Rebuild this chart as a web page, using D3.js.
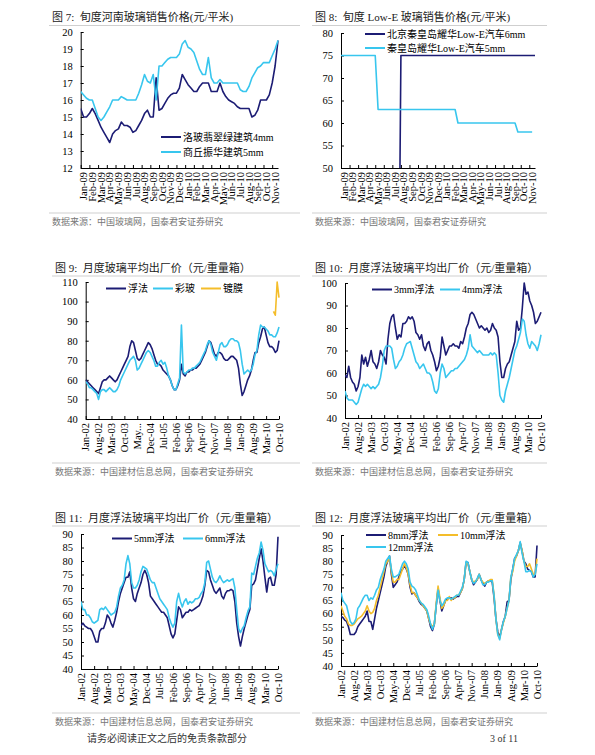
<!DOCTYPE html>
<html>
<head>
<meta charset="utf-8">
<script src="https://cdn.jsdelivr.net/npm/d3@7"></script>
<style>
body { margin: 0; background: #fff; }
svg text { font-family: "Liberation Serif", "Noto Sans CJK SC", serif; white-space: pre; }
</style>
</head>
<body>
<div id="page"></div>
<script>
// ---- Fig 7: 旬度河南玻璃销售价格 (Jan-09 .. Nov-10, 3 points per month)
const tenDayMonths = ["Jan-09","Feb-09","Mar-09","Apr-09","May-09","Jun-09","Jul-09","Aug-09","Sep-09","Oct-09","Nov-09","Dec-09",
  "Jan-10","Feb-10","Mar-10","Apr-10","May-10","Jun-10","Jul-10","Aug-10","Sep-10","Oct-10","Nov-10"];
const luoboi4mm = [15.5,15,15,15.2,15.5,15.2,14.8,14.4,14.1,13.8,
  13.5,14,14.2,14.3,14.7,14.5,14.5,14.4,14.1,14.2,
  14.5,14.8,15.2,15.4,15,15,17.3,15.4,15.5,15.8,
  16.1,16.3,16.4,16.4,16.7,17.5,17.2,16.9,16.7,16.5,
  16.5,16.8,17,17,17,16.5,16.5,16.5,17,16.5,
  16.2,16,15.9,15.8,15.6,15.5,15.5,15.5,15.5,15,
  15.1,15.4,16,16,16,16.3,17,18,19.5];
const shangqiu5mm = [16.5,16.3,16.1,16,16,15.5,15,14.8,15,15.3,
  15.6,16,16,16,16.2,16.1,16,16,16,16,
  16.4,16.9,17.5,17.1,17,17.5,16,18,18,18.2,
  18.4,18.5,18.5,18.5,18.7,19.3,19.5,19.1,19,18.8,
  18.3,17.8,17.5,17.5,18.5,17.3,17,17,17.2,17,
  17,17,17,17,17,16.6,16.5,16.5,16.8,17.3,
  17.6,17.9,18,18.2,18.2,18.2,18.6,19,19.5];

// ---- Fig 8: 旬度 Low-E 玻璃销售价格
const lowE6mm = [0,0,0,0,0,0,0,0,0,0,0,0,0,0,0,0,0,0,0,0,0,
  75,75,75,75,75,75,75,75,75,75,75,75,75,75,75,75,75,75,75,75,75,75,75,75,75,75,75,75,
  75,75,75,75,75,75,75,75,75,75,75,75,75,75,75,75,75,75,75,75];
const lowE5mm = [75,75,75,75,75,75,75,75,75,75,75,75,75,
  63,63,63,63,63,63,63,63,63,63,63,63,63,63,63,63,63,63,63,63,63,63,63,63,63,63,63,63,
  60,60,60,60,60,60,60,60,60,60,60,60,60,60,60,60,60,60,60,60,60,
  58,58,58,58,58,58];

// ---- monthly series Jan-02 .. Oct-10
const monthLabels = ["Jan-02","Aug-02","Mar-03","Oct-03","May-04","Dec-04","Jul-05","Feb-06",
  "Sep-06","Apr-07","Nov-07","Jun-08","Jan-09","Aug-09","Mar-10","Oct-10"];
const monthLabels9 = ["Jan-02","Aug-02","Mar-03","Oct-03","May...","Dec-04","Jul-05","Feb-06",
  "Sep-06","Apr-07","Nov-07","Jun-08","Jan-09","Aug-09","Mar-10","Oct-10"];

// Fig 9
const floatAvg = [60,59,58,57,56,55,54,53,56,59,
  60,60,61,62,61,60,59,60,62,64,
  66,68,70,72,77,80,79,75,71,70,
  71,73,75,77,79,78,76,73,70,68,
  68,67,65,64,63,62,60,57,55,55,
  57,60,68,63,62,64,64,65,65,66,
  66,67,68,70,72,74,77,80,79,76,
  73,72,74,74,73,71,70,70,71,72,
  72,71,70,66,58,52,54,57,60,62,
  65,70,74,74,79,82,86,87,83,79,
  77,77,76,74,75,80];
const colorGlass = [59,58,56,56,55,54,53,50,54,55,
  55,54,55,56,55,54,54,55,57,60,
  62,64,66,68,70,71,72,70,65,66,
  68,70,72,74,75,74,72,70,67,67,
  69,70,68,69,66,62,60,57,55,55,
  58,61,88,64,63,64,65,65,66,66,
  67,68,69,71,73,75,78,80,78,74,
  72,70,74,78,79,77,77,78,80,81,
  81,80,80,79,75,68,63,64,65,64,
  65,68,73,75,83,88,87,87,86,85,
  83,83,82,82,84,87];
const coatedStart = 102;
const coated = [95,93,110,102];

// Fig 10
const float3mm = [59,58,63,58,56,55,52,54,58,68,
  64,67,63,66,70,65,64,62,65,70,
  68,67,64,75,82,85,86,80,75,77,
  76,82,82,83,85,84,85,83,78,77,
  75,77,72,70,73,74,70,68,65,61,
  63,67,76,72,68,70,72,72,73,72,
  72,71,74,73,76,80,82,86,87,86,
  84,82,80,81,80,79,80,78,79,82,
  80,79,76,65,58,58,62,64,65,68,
  71,74,83,79,80,89,100,95,96,92,
  90,87,82,83,85,87];
const float4mm = [52,49,48,48,48,47,46,47,50,53,
  55,54,55,54,53,54,53,54,55,58,
  63,70,72,72,72,71,66,62,63,65,
  66,68,71,73,73.5,74,71,68,65,64,
  62,63,64,62,60,60,59,56,52,51,
  53,60,64,62,58,59,60,61,61,62,
  62,63,64,65,66,68,71,77,72,71,
  70,69,70,69,68,68,68,68,69,68,
  69,68,60,50,48,47,52,55,58,62,
  66,70,72,75,78,84,83,77,73,71,
  74,73,72,70,73,77];

// Fig 11
const float5mm = [56,57,56,55.5,55,55,54,52,50,50,
  54,55,55,57,60,59,57,55.5,58,61,
  65,68,70,72,74,74,76,70,66,65,
  68,70,72,75,76.5,75,72,67,66,65,
  64,63,62,61,61,60,59,56,53,51.5,
  53,58,63,62,59,60,61,61,62,61.5,
  62,62.5,63,63.5,65,67,71,76.5,76,73,
  71,69,68,69,70,67,66,68,69,69,
  69.5,69,65,57,52,48.5,52,55,57.5,60,
  62,71,71.5,73,77,81,84.5,80,74,68.5,
  73.5,74,71,71,75,89];
const float6mm = [65,62,62,60,60,59,57.5,57,57.5,58,
  62,62.5,62,63,62,61,60,60.5,61,63,
  67,70,71,73,79,82,79,72,70,70,
  71,73,76,78,77.5,77,75,73,72,72,
  70,68,66,65,64,63,62,59,57,55.5,
  57,65,68,65,63,65,66,64,65,64.5,
  65,66,66,66.5,68,69,72,79.5,80,77,
  74,72.5,72,73,74.5,73,72,72.5,73,72.5,
  73,73.5,70,62,55,53.5,55,56,59,61.5,
  63,75.5,75,78,81,83,87,84,79,77.5,
  76,76.5,76,74.5,77,79];

// Fig 12
const float8mm = [59,58.5,57.5,57,55,52,52,52,53,55,
  56,57,58,59,61,57,57,54,58,62,
  65,68,71,74,78,80,82,75,70,71,
  72,74,76,77,78.5,77,75,70,67.5,68,
  67,66,64.5,63.5,63,62,61,58,55,53.5,
  56,63,69.5,65,61,63,65,65.5,66,66,
  65.5,66,66.5,66.5,68,69.5,73,79.5,79.5,76,
  73,71,72,73,75,73,71.5,70.5,72,72.5,
  72.5,72,66,58,53,51,54,57,59,64.5,
  65,73,77,81,82,84,87,84,80,79,
  77,76.5,76,74,74,86];
const float10mm = [63,61,59,58,56,55.5,55.5,56,57,58,
  58.5,59,60,61,63,61,60,60.5,62,65,
  67,70,73,76,79,80,81.5,76,72,72,
  73,73,75,77,79,77.5,75,71,68,68,
  67,66,65,64,63,62,61,58,56,55,
  56,64,70.5,66,62,63,65,65,66.5,65,
  66,66,67,67,68,69.5,73,79.5,79,76,
  73,72,72.5,73,75,73,72,71.5,72,72.5,
  73,73,67,58,52,50.5,54,56.5,59,62,
  65,74,76,80,82,84,87,84,80,78,
  78,79,77,75,75,81];
const float12mm = [68,65,64,63,60,57,56,56.5,58,62,
  63,64.5,66,67,67,65,66,65.5,67,69,
  70,73,75,77,80,81,82,77,74,74,
  74.5,75,77,79,80,79,77,72,70.5,70,
  69,67,65,64,63.5,62.5,61.5,59,56,54,
  56,63,69,65,63,64,65.5,66,66,65.5,
  66,66.5,67,67,68.5,70,73,80,79.5,76,
  73,71.5,72,73.5,75,73,71,71,72,72,
  72.5,72.5,67,58,52,50,54,57,59,62,
  65,74,77,81,82.5,84,87.5,83,80,76,
  76,76.5,76,74,75,79];

const navy = "#1c1c74", cyan = "#38c6ee", gold = "#f4bd2a";

const svg = d3.select("#page").append("svg")
  .attr("width", 595)
  .attr("height", 755);

let clipId = 0;

function panel(o) {
  const g = svg.append("g");
  const x = d3.scaleLinear().domain(o.xDomain).range([o.x0, o.x1]);
  const y = d3.scaleLinear().domain(o.yDomain).range([o.yBot, o.yTop]);

  // title, rules, source
  g.append("text").attr("x", o.left).attr("y", o.titleY)
    .attr("font-size", "11px").attr("fill", "#222").text(o.title);
  g.append("line").attr("x1", o.left - 3).attr("x2", o.right)
    .attr("y1", o.titleY + 4.5).attr("y2", o.titleY + 4.5)
    .attr("stroke", "#cfcfcf");
  g.append("line").attr("x1", o.left - 3).attr("x2", o.right)
    .attr("y1", o.sourceY - 12).attr("y2", o.sourceY - 12)
    .attr("stroke", "#cfcfcf");
  g.append("text").attr("x", o.left).attr("y", o.sourceY)
    .attr("font-size", "9px").attr("fill", "#777").text(o.source);

  // axes
  const ya = g.append("g").attr("transform", `translate(${o.x0},0)`)
    .call(d3.axisLeft(y).tickValues(o.yTicks).tickSize(-3).tickSizeOuter(0).tickPadding(8));
  ya.selectAll("text").attr("font-size", "10.5px").attr("fill", "#000")
    .style("font-family", '"Liberation Serif", serif');

  g.append("g").attr("transform", `translate(0,${o.yBot})`)
    .call(d3.axisBottom(x).tickValues(o.tickPos).tickSize(-3).tickSizeOuter(0).tickFormat(""));
  g.selectAll(".domain, .tick line").attr("stroke", "#000");

  g.append("g").selectAll("text")
    .data(o.labels)
    .enter()
    .append("text")
    .attr("transform", (d, i) => `translate(${x(o.labelPos[i])},${o.yBot + 4}) rotate(-90)`)
    .attr("text-anchor", "end")
    .attr("dy", "0.35em")
    .attr("font-size", "10.5px")
    .text(d => d);

  // lines
  const id = "clip" + (clipId++);
  g.append("clipPath").attr("id", id).append("rect")
    .attr("x", o.x0).attr("y", o.yTop - 1).attr("width", o.x1 - o.x0 + 4).attr("height", o.yBot - o.yTop + 1);
  const lines = g.append("g").attr("clip-path", `url(#${id})`);
  o.series.forEach(s => {
    const line = d3.line()
      .defined(d => d != null)
      .x((d, i) => x(i + (s.start || 0)))
      .y(d => y(d));
    lines.append("path")
      .attr("d", line(s.values))
      .attr("fill", "none")
      .attr("stroke", s.color)
      .attr("stroke-width", 1.6)
      .attr("stroke-linejoin", "round");
  });

  // legend
  o.legend.forEach(l => {
    g.append("line").attr("x1", l.x).attr("x2", l.x + 20)
      .attr("y1", l.y).attr("y2", l.y)
      .attr("stroke", l.color).attr("stroke-width", 2);
    g.append("text").attr("x", l.x + 22).attr("y", l.y + 3.5)
      .attr("font-size", "10px").text(l.label);
  });
}

const monthTicks = d3.range(0, 106, 7);
const tenDayTicks = d3.range(0, 69, 3);
const tenDayLabelPos = tenDayMonths.map((d, i) => i * 3 + 1);

panel({
  title: "图 7:  旬度河南玻璃销售价格(元/平米)", left: 52, right: 300, titleY: 21,
  source: "数据来源：中国玻璃网，国泰君安证券研究", sourceY: 225,
  x0: 80.7, x1: 278, yTop: 32, yBot: 168,
  xDomain: [0, 68], yDomain: [12, 20], yTicks: d3.range(12, 21, 1),
  tickPos: tenDayTicks, labels: tenDayMonths, labelPos: tenDayLabelPos,
  series: [{ values: luoboi4mm, color: navy }, { values: shangqiu5mm, color: cyan }],
  legend: [{ label: "洛玻翡翠绿建筑4mm", color: navy, x: 161, y: 137 },
           { label: "商丘振华建筑5mm", color: cyan, x: 161, y: 152 }]
});

panel({
  title: "图 8:  旬度 Low-E 玻璃销售价格(元/平米)", left: 315, right: 547, titleY: 21,
  source: "数据来源：中国玻璃网，国泰君安证券研究", sourceY: 225,
  x0: 341, x1: 535, yTop: 33, yBot: 168,
  xDomain: [0, 68], yDomain: [50, 80], yTicks: d3.range(50, 81, 5),
  tickPos: tenDayTicks, labels: tenDayMonths, labelPos: tenDayLabelPos,
  series: [{ values: lowE6mm, color: navy }, { values: lowE5mm, color: cyan }],
  legend: [{ label: "北京秦皇岛耀华Low-E汽车6mm", color: navy, x: 365, y: 34 },
           { label: "秦皇岛耀华Low-E汽车5mm", color: cyan, x: 365, y: 48 }]
});

panel({
  title: "图 9:  月度玻璃平均出厂价（元/重量箱）", left: 55, right: 300, titleY: 271.5,
  source: "数据来源：中国建材信息总网，国泰君安证券研究", sourceY: 475,
  x0: 85.7, x1: 279, yTop: 282, yBot: 419,
  xDomain: [0, 105], yDomain: [40, 110], yTicks: d3.range(40, 111, 10),
  tickPos: monthTicks, labels: monthLabels9, labelPos: monthTicks,
  series: [{ values: floatAvg, color: navy }, { values: colorGlass, color: cyan },
           { values: coated, color: gold, start: coatedStart }],
  legend: [{ label: "浮法", color: navy, x: 106, y: 288.5 },
           { label: "彩玻", color: cyan, x: 153, y: 288.5 },
           { label: "镀膜", color: gold, x: 201, y: 288.5 }]
});

panel({
  title: "图 10:  月度浮法玻璃平均出厂价（元/重量箱）", left: 315, right: 547, titleY: 271.5,
  source: "数据来源：中国建材信息总网，国泰君安证券研究", sourceY: 475,
  x0: 345, x1: 541, yTop: 283, yBot: 418,
  xDomain: [0, 105], yDomain: [40, 100], yTicks: d3.range(40, 101, 10),
  tickPos: monthTicks, labels: monthLabels, labelPos: monthTicks,
  series: [{ values: float3mm, color: navy }, { values: float4mm, color: cyan }],
  legend: [{ label: "3mm浮法", color: navy, x: 372, y: 289.5 },
           { label: "4mm浮法", color: cyan, x: 440, y: 289.5 }]
});

panel({
  title: "图 11:  月度浮法玻璃平均出厂价（元/重量箱）", left: 55, right: 300, titleY: 521.5,
  source: "数据来源：中国建材信息总网，国泰君安证券研究", sourceY: 725,
  x0: 81, x1: 278, yTop: 534, yBot: 669,
  xDomain: [0, 105], yDomain: [40, 90], yTicks: d3.range(40, 91, 5),
  tickPos: monthTicks, labels: monthLabels, labelPos: monthTicks,
  series: [{ values: float5mm, color: navy }, { values: float6mm, color: cyan }],
  legend: [{ label: "5mm浮法", color: navy, x: 112, y: 538.5 },
           { label: "6mm浮法", color: cyan, x: 183, y: 538.5 }]
});

panel({
  title: "图 12:  月度浮法玻璃平均出厂价（元/重量箱）", left: 315, right: 547, titleY: 521.5,
  source: "数据来源：中国建材信息总网，国泰君安证券研究", sourceY: 725,
  x0: 341, x1: 537, yTop: 535, yBot: 666,
  xDomain: [0, 105], yDomain: [40, 90], yTicks: d3.range(40, 91, 5),
  tickPos: monthTicks, labels: monthLabels, labelPos: monthTicks,
  series: [{ values: float8mm, color: navy }, { values: float10mm, color: gold },
           { values: float12mm, color: cyan }],
  legend: [{ label: "8mm浮法", color: navy, x: 366, y: 535 },
           { label: "10mm浮法", color: gold, x: 438, y: 535 },
           { label: "12mm浮法", color: cyan, x: 366, y: 547 }]
});

// page footer
svg.append("text").attr("x", 87).attr("y", 742)
  .attr("font-size", "10px").attr("fill", "#333").text("请务必阅读正文之后的免责条款部分");
svg.append("text").attr("x", 490).attr("y", 742)
  .attr("font-size", "10px").attr("fill", "#333").text("3 of 11");
</script>
</body>
</html>
